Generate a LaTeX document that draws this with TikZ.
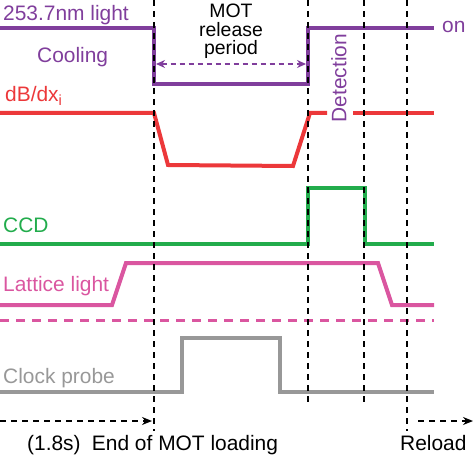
\documentclass[tikz,border=0pt]{standalone}
\usepackage{fontspec}
\setmainfont{Liberation Sans}
\usetikzlibrary{arrows.meta}
\definecolor{cpurple}{RGB}{128,62,156}
\definecolor{cred}{RGB}{236,56,58}
\definecolor{cgreen}{RGB}{34,172,76}
\definecolor{cpink}{RGB}{218,86,160}
\definecolor{cgray}{RGB}{152,152,152}
\begin{document}
\begin{tikzpicture}[x=1bp,y=-1bp,
  wave/.style={line width=4bp},
  vdash/.style={black, line width=1.8bp, dash pattern=on 6bp off 5bp},
  lbl/.style={anchor=base west, inner sep=0pt, font=\fontsize{21}{24}\selectfont},
  tarrow/.style={black, line width=1.6bp, dash pattern=on 6bp off 5bp, -{Stealth[length=10bp,width=8bp]}}]
\useasboundingbox (0,0) rectangle (474,455);

% waveforms
\draw[wave, cpurple] (0,28) -- (154,28) -- (154,84) -- (308,84) -- (308,28) -- (434,28);
\draw[wave, cred] (0,113) -- (154,113) -- (168,165) -- (293,166) -- (310,113) -- (327,113);
\draw[wave, cred] (353,113) -- (434,113);
\draw[wave, cgreen] (0,244) -- (308,244) -- (308,188) -- (365,188) -- (365,244) -- (434,244);
\draw[wave, cpink] (0,305) -- (112,305) -- (126,263) -- (378,263) -- (392,305) -- (434,305);
\draw[line width=3bp, cpink, dash pattern=on 9bp off 7bp] (0,320) -- (434,320);
\draw[wave, cgray] (0,392) -- (182,392) -- (182,338) -- (280,338) -- (280,392) -- (434,392);

% vertical time markers
\coordinate (t1) at (154,0);
\coordinate (t2) at (308,0);
\coordinate (t3) at (364,0);
\coordinate (t4) at (407,0);
\draw[vdash] (t1) -- ++(0,431);
\draw[vdash] (t2) -- ++(0,405);
\draw[vdash] (t3) -- ++(0,405);
\draw[vdash] (t4) -- ++(0,431);

% MOT release arrow
\coordinate (ma) at (156,64);
\coordinate (mb) at (306,64);
\draw[cpurple, line width=1.4bp, dash pattern=on 5bp off 4bp, {Stealth[length=9bp,width=8bp]}-{Stealth[length=9bp,width=8bp]}] (ma) -- (mb);

% bottom arrows
\coordinate (a0) at (0,421);
\coordinate (a1) at (152,421);
\coordinate (b0) at (418,421);
\coordinate (b1) at (473,421);
\draw[tarrow] (a0) -- (a1);
\draw[tarrow] (b0) -- (b1);

% labels
\node[lbl, cpurple] (n253) at (3,21) {253.7nm light};
\node[lbl, cpurple] (ncool) at (37,63) {Cooling};
\node[lbl, cpurple] (non) at (442,33) {on};
\node[lbl, cred] (ndb) at (5,102) {dB/dx$_{\mathrm{i}}$};
\node[lbl, cgreen] (nccd) at (3,233) {CCD};
\node[lbl, cpink] (nlat) at (3,291) {Lattice light};
\node[lbl, cgray] (nclk) at (3,383) {Clock probe};
\node[lbl] (nend) at (27,450) {(1.8s)\hspace{5.5pt} End of MOT loading};
\node[lbl] (nrel) at (400,450) {Reload};
\node[cpurple, rotate=90, inner sep=0pt, font=\fontsize{21}{24}\selectfont] (ndet) at (339,78) {Detection};
\node[align=center, inner sep=0pt, anchor=north, font=\fontsize{19.5}{18.5}\selectfont] (nmot) at (231,4) {MOT\\release\\period};
\end{tikzpicture}
\end{document}
